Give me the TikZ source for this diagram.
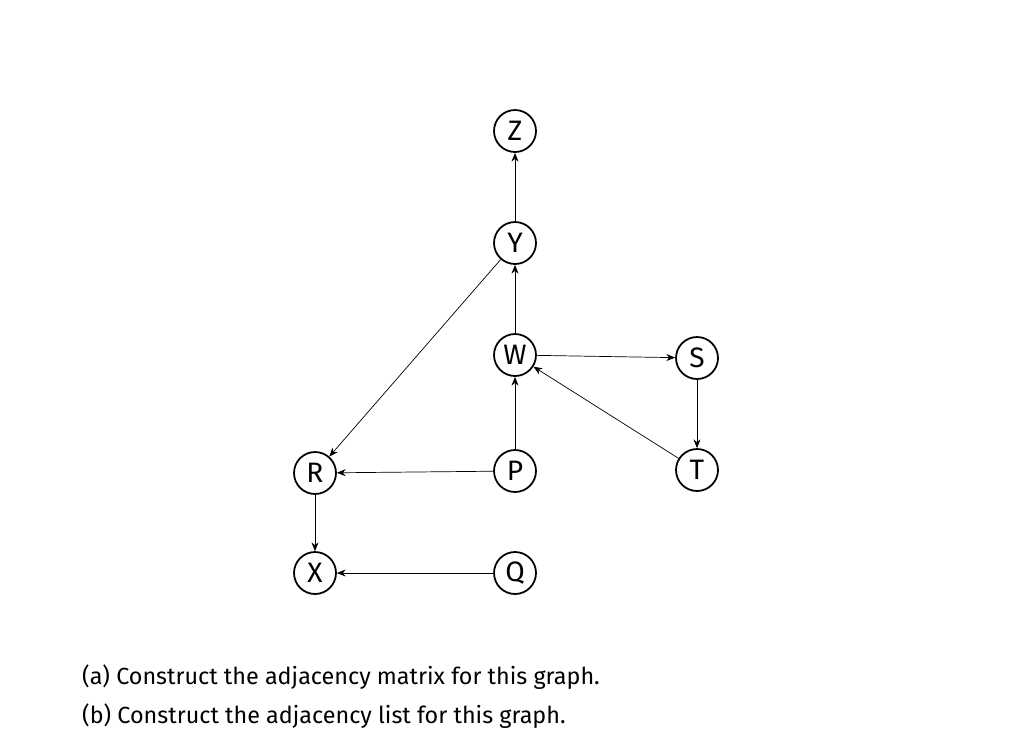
\documentclass[tikz,border=0pt]{standalone}
\usepackage{fontspec}
\setmainfont{Fira Sans}
\usetikzlibrary{arrows.meta}
\begin{document}
\begin{tikzpicture}[x=0.02cm,y=-0.02cm,
  vert/.style={circle,draw,line width=1pt,minimum size=0.84cm,inner sep=0pt,font=\fontsize{16}{18}\selectfont},
  edge/.style={-{Stealth[length=5pt,width=4pt]},line width=0.4pt},
  txt/.style={anchor=west,font=\fontsize{13.3}{16}\selectfont}]
\useasboundingbox (0,0) rectangle (1024,751);
\node[vert] (Z) at (515,131) {Z};
\node[vert] (Y) at (515,243) {Y};
\node[vert] (W) at (515,355) {W};
\node[vert] (S) at (697,358) {S};
\node[vert] (P) at (515,471) {P};
\node[vert] (T) at (697,470) {T};
\node[vert] (R) at (315,473) {R};
\node[vert] (X) at (315,573) {X};
\node[vert] (Q) at (515,573) {Q};
\draw[edge] (Y) -- (Z);
\draw[edge] (W) -- (Y);
\draw[edge] (P) -- (W);
\draw[edge] (W) -- (S);
\draw[edge] (S) -- (T);
\draw[edge] (T) -- (W);
\draw[edge] (Y) -- (R);
\draw[edge] (P) -- (R);
\draw[edge] (R) -- (X);
\draw[edge] (Q) -- (X);
\node[txt] (ta) at (76,677) {(a) Construct the adjacency matrix for this graph.};
\node[txt] (tb) at (76,716) {(b) Construct the adjacency list for this graph.};
\end{tikzpicture}
\end{document}
